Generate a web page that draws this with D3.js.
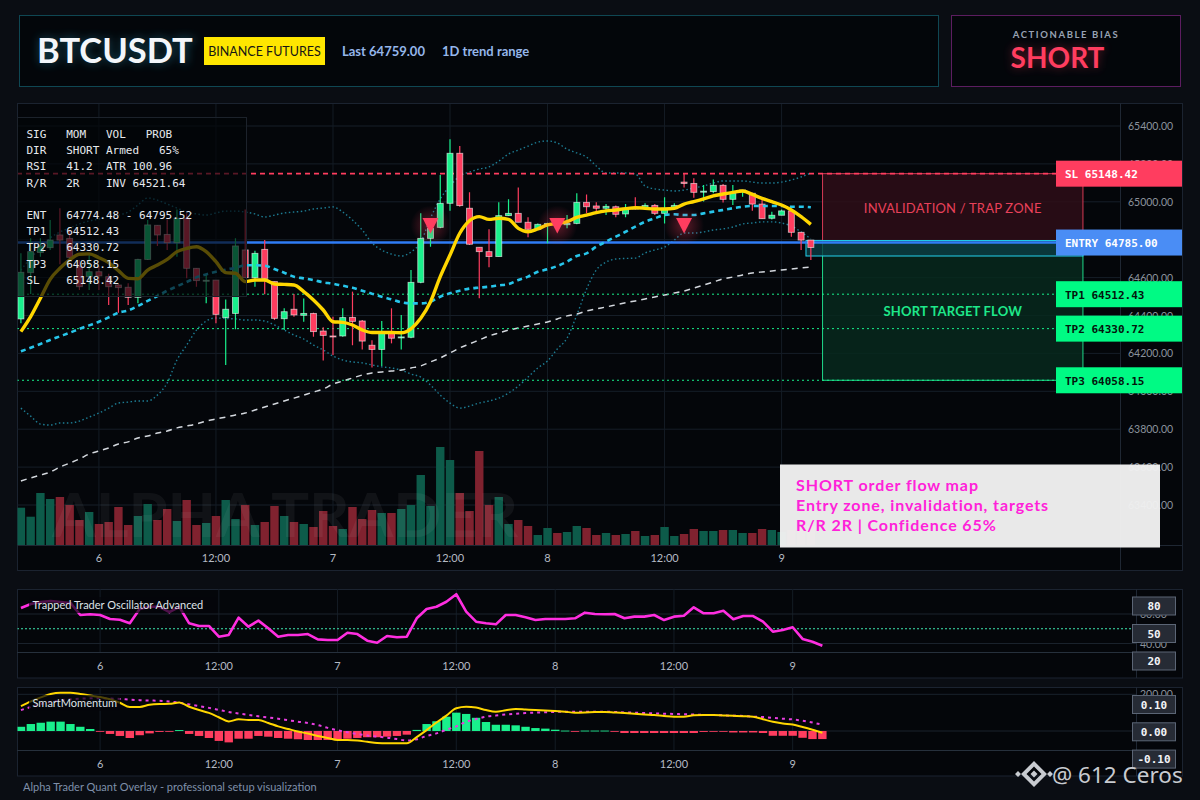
<!DOCTYPE html>
<html>
<head>
<meta charset="utf-8">
<script src="https://cdn.jsdelivr.net/npm/d3@7"></script>
<style>
  html, body { margin: 0; padding: 0; background: #0a0d13; }
  svg { display: block; }
</style>
</head>
<body>
<svg id="chart" width="1200" height="800"></svg>
<script>
// ---- data (1h bars, 5th 16:00 -> 9th 03:00) ----
const tickIdx = [8, 20, 32, 44, 54, 66, 78];
const tickLabels = ["6", "12:00", "7", "12:00", "8", "12:00", "9"];
const priceTicks = [63400, 63600, 63800, 64000, 64200, 64400, 64600, 64800, 65000, 65200, 65400];

const open  = [64382,64626,64732,64758,64825,64807,64658,64605,64631,64605,64561,64549,64496,64696,64876,64828,64784,64913,64649,64582,64587,64389,64411,64746,64600,64749,64579,64383,64433,64401,64411,64318,64292,64292,64390,64371,64243,64221,64306,64283,64285,64575,64807,64865,64992,65256,64966,64760,64737,64711,64927,64939,64892,64855,64878,64884,64879,64886,64997,64978,64966,64974,64936,64970,64964,64981,64939,64964,65104,65097,65052,65054,65087,65013,65054,65045,64988,64913,64929,64952,64839,64798];
const high  = [64728,64807,64807,64904,64966,64851,64693,64728,64660,64620,64570,64570,64700,64904,64878,64907,64960,64939,64649,64622,64587,64485,64807,64960,64742,64798,64579,64438,64514,64490,64415,64338,64394,64438,64526,64376,64270,64371,64438,64403,64640,64939,64886,65141,65330,65295,65050,64760,64855,64997,65013,65076,64918,64886,64890,64900,64930,65045,65039,64997,64988,64981,64988,65024,64992,64988,65024,64992,65150,65124,65089,65118,65094,65089,65062,65048,65018,64948,64960,64952,64839,64798];
const low   = [64359,64514,64710,64746,64670,64700,64535,64535,64535,64455,64415,64455,64464,64693,64767,64746,64710,64596,64552,64464,64359,64139,64327,64596,64552,64512,64376,64324,64394,64367,64288,64162,64192,64288,64243,64221,64126,64133,64253,64221,64280,64570,64763,64860,64953,64974,64772,64491,64654,64711,64925,64892,64813,64850,64781,64860,64860,64881,64939,64936,64930,64918,64918,64958,64962,64930,64886,64962,65076,65022,65001,65045,64996,64983,65027,64953,64911,64907,64929,64816,64746,64693];
const close = [64628,64737,64767,64798,64798,64707,64552,64631,64609,64552,64547,64496,64696,64878,64825,64784,64913,64649,64584,64586,64406,64433,64767,64600,64728,64596,64385,64420,64403,64411,64315,64295,64288,64389,64369,64265,64221,64306,64280,64287,64575,64807,64860,64992,65256,64980,64776,64737,64711,64927,64939,64892,64855,64881,64886,64880,64886,64997,64974,64966,64976,64934,64966,64962,64981,64939,64966,64981,65097,65050,65056,65087,65013,65045,65062,64988,64911,64929,64952,64839,64798,64759];
const volume = [746,566,1040,920,960,800,500,660,420,460,760,400,580,820,500,720,480,900,400,440,580,900,520,800,400,460,780,580,460,420,360,680,380,320,760,520,700,640,640,720,800,1400,780,1960,1700,1040,680,1880,800,960,420,500,380,200,340,240,260,380,340,200,240,200,220,280,180,200,360,180,220,320,280,280,300,300,240,240,320,300,260,300,340,380];

const emaFast = [64315,64394,64491,64591,64649,64693,64723,64725,64705,64679,64637,64596,64594,64640,64666,64696,64737,64754,64763,64737,64684,64626,64623,64579,64587,64587,64566,64564,64561,64526,64482,64429,64367,64364,64350,64324,64310,64310,64310,64309,64330,64385,64473,64605,64719,64834,64900,64922,64907,64913,64907,64860,64842,64857,64878,64886,64895,64918,64930,64943,64952,64957,64964,64969,64966,64962,64962,64966,64988,65001,65015,65031,65041,65050,65057,65039,65018,65001,64983,64957,64922,64881];
const emaSlow = [64211,64230,64250,64271,64290,64309,64329,64348,64367,64390,64415,64427,64450,64477,64503,64531,64554,64577,64601,64617,64631,64642,64652,64665,64665,64663,64645,64626,64605,64596,64587,64575,64568,64557,64547,64531,64515,64499,64485,64470,64464,64464,64473,64499,64517,64531,64542,64547,64552,64559,64566,64587,64605,64631,64644,64661,64684,64714,64728,64763,64790,64816,64842,64869,64895,64913,64930,64934,64930,64930,64939,64948,64957,64966,64974,64978,64978,64978,64978,64974,64974,64971];
const bbUpper = [64640,64703,64756,64809,64841,64862,64883,64899,64909,64920,64930,64946,64983,65020,65009,64988,64967,64946,64936,64930,64941,64951,64951,64946,64936,64920,64930,64941,64946,64951,64962,64967,64973,64946,64904,64851,64783,64745,64724,64714,64735,64788,64914,65015,65083,65136,65157,65173,65184,65215,65252,65273,65294,65315,65321,65310,65278,65258,65236,65189,65152,65152,65152,65147,65083,65068,65062,65057,65062,65073,65083,65099,65110,65110,65110,65104,65099,65099,65104,65115,65131,65152];
const bbLower = [63911,63869,63827,63822,63833,63833,63843,63864,63885,63911,63938,63943,63949,63949,63980,64044,64165,64244,64323,64371,64387,64384,64382,64376,64376,64371,64350,64323,64297,64276,64244,64218,64186,64165,64155,64150,64139,64129,64123,64112,64091,64075,64033,63980,63938,63911,63922,63938,63949,63964,63991,64027,64075,64123,64160,64223,64281,64402,64539,64640,64682,64698,64701,64703,64730,64746,64761,64798,64835,64835,64841,64851,64857,64867,64883,64888,64894,64894,64888,64872,64841,64804];
const maLong = [63527,63543,63558,63574,63600,63621,63643,63669,63685,63701,63722,63733,63754,63764,63780,63791,63807,63817,63828,63843,63854,63864,63875,63885,63901,63917,63933,63949,63964,63980,63996,64012,64038,64054,64070,64086,64097,64102,64107,64112,64123,64134,64155,64176,64202,64229,64250,64271,64292,64308,64323,64334,64345,64355,64366,64382,64398,64408,64424,64435,64445,64456,64467,64477,64487,64498,64508,64519,64529,64545,64561,64577,64593,64603,64614,64624,64630,64635,64640,64645,64651,64656];

const trapOsc = [64.1,66.8,68.1,68.8,68.1,67.5,59.3,59.8,59.3,56.6,56.1,53.7,63.4,64.9,64.9,61.2,64.9,53.7,51.9,51.9,44.6,45.8,57.5,51.4,55.5,50.3,44.6,45.8,45.8,46.4,42.8,42.4,42.4,47.3,46.4,41.9,40.5,45.1,44.2,44.6,57.1,63.4,64.9,68.3,73.4,61.6,54.8,53.7,53.0,59.3,59.3,57.8,55.9,56.6,56.6,56.6,57.1,60.9,60,59.8,60,57.1,58.2,58.2,59.3,55.9,58.2,58.8,64.5,60.5,60.5,62.2,56.4,58.6,58.6,54.8,48,49.2,51,43.1,41.2,38.5];
const trapMid = 50;
const trapTicks = [40, 60];
const trapBadges = ["80", "50", "20"];

const momLine = [135,161,183,202,209,209,202,193,185,173,154,131,131,143,147,148,155,132,114,99,75,52,64,60,60,44,25,11,-3,-14,-27,-38,-49,-49,-52,-59,-66,-67,-67,-67,-33,5,46,84,124,132,128,114,105,113,120,117,114,112,109,105,100,101,103,104,101,98,94,90,87,82,78,78,86,87,87,85,83,81,78,64,50,41,35,22,7,-10];
const momSignal = [114,131,146,158,168,173,176,178,178,177,175,171,168,166,165,161,154,145,136,126,115,104,95,88,80,74,67,59,51,44,32,17,4,-7,-16,-25,-31,-36,-44,-52,-45,-27,-13,7,25,50,65,78,84,90,94,98,100,102,104,105,105,105,105,105,104,101,100,98,96,94,93,91,90,88,87,85,83,82,78,76,72,67,63,56,46,34];
const momHist = [23,38,45,51,51,38,23,11,-4,-16,-27,-38,-23,-13,-5,-4,5,-16,-27,-38,-54,-62,-42,-42,-27,-31,-38,-42,-45,-49,-49,-49,-45,-42,-38,-34,-34,-31,-27,-20,6,38,53,78,100,93,72,49,34,34,31,23,16,13,7,2,-2,2,2,2,-3,-11,-11,-11,-11,-11,-11,-11,-11,-5,-3,-3,-8,-8,-8,-11,-26,-26,-26,-37,-44,-44];
const momTicks = [0, 200];
const momBadges = ["0.10", "0.00", "-0.10"];

const levelNames  = ["SL", "ENTRY", "TP1", "TP2", "TP3"];
const levelPrices = [65148.42, 64785.00, 64512.43, 64330.72, 64058.15];
const entryZone = [64795.52, 64714];
const zoneSpan = [82.2, 108.9];      // bar index span of the setup boxes
const entryZoneStart = 80.5;
const sellSignals = [42, 55, 68];
const sellSignalPrice = 64875;

const infoLines = [
  "SIG   MOM   VOL   PROB",
  "DIR   SHORT Armed   65%",
  "RSI   41.2  ATR 100.96",
  "R/R   2R    INV 64521.64",
  "",
  "ENT   64774.48 - 64795.52",
  "TP1   64512.43",
  "TP2   64330.72",
  "TP3   64058.15",
  "SL    65148.42"
];
const noteLines = ["SHORT order flow map", "Entry zone, invalidation, targets", "R/R 2R | Confidence 65%"];

// ---- setup ----
const svg = d3.select("#chart");
const defs = svg.append("defs");
const SANS = "Lato, 'Open Sans', 'Noto Sans', sans-serif";
const MONO = "'DejaVu Sans Mono', 'Liberation Mono', monospace";
const UP = "#19f08c", DOWN = "#ff3d5f";

const blur = defs.append("filter").attr("id", "blur").attr("x", "-30%").attr("y", "-60%").attr("width", "160%").attr("height", "220%");
blur.append("feGaussianBlur").attr("stdDeviation", 5);

const sigGlow = defs.append("radialGradient").attr("id", "sigGlow");
sigGlow.append("stop").attr("offset", "0%").attr("stop-color", "#ff3d5f").attr("stop-opacity", 0.35);
sigGlow.append("stop").attr("offset", "100%").attr("stop-color", "#ff3d5f").attr("stop-opacity", 0);

svg.append("rect").attr("width", 1200).attr("height", 800).attr("fill", "#0a0d13");

// ---- header ----
svg.append("rect").attr("x", 19.5).attr("y", 15.5).attr("width", 919).attr("height", 71)
  .attr("fill", "#03060a").attr("stroke", "#0f4753");
svg.append("text").attr("x", 37).attr("y", 63).attr("font-family", SANS).attr("font-weight", 700)
  .attr("font-size", 35).attr("fill", "#2aa6c8").attr("opacity", 0.45).attr("filter", "url(#blur)").text("BTCUSDT");
svg.append("text").attr("x", 37).attr("y", 63).attr("font-family", SANS).attr("font-weight", 700)
  .attr("font-size", 34.5).attr("fill", "#f3f6fa").text("BTCUSDT");
svg.append("rect").attr("x", 204).attr("y", 37).attr("width", 121).attr("height", 28).attr("fill", "#ffe600");
svg.append("text").attr("x", 264.5).attr("y", 55.5).attr("text-anchor", "middle").attr("font-family", SANS)
  .attr("font-size", 12.5).attr("fill", "#151515").text("BINANCE FUTURES");
svg.append("text").attr("x", 342).attr("y", 56).attr("font-family", SANS).attr("font-weight", 700)
  .attr("font-size", 13).attr("fill", "#95b6ea").text("Last 64759.00");
svg.append("text").attr("x", 442).attr("y", 56).attr("font-family", SANS).attr("font-weight", 700)
  .attr("font-size", 13).attr("fill", "#95b6ea").text("1D trend range");

svg.append("rect").attr("x", 951.5).attr("y", 15.5).attr("width", 229).attr("height", 71)
  .attr("fill", "#03060a").attr("stroke", "#5c1d60");
svg.append("text").attr("x", 1066).attr("y", 37.5).attr("text-anchor", "middle").attr("font-family", SANS)
  .attr("font-weight", 700).attr("font-size", 9.5).attr("letter-spacing", 1.6).attr("fill", "#98a2b3").text("ACTIONABLE BIAS");
svg.append("text").attr("x", 1057.5).attr("y", 68).attr("text-anchor", "middle").attr("font-family", SANS)
  .attr("font-weight", 700).attr("font-size", 28).attr("fill", "#ff3d5f").attr("opacity", 0.4)
  .attr("filter", "url(#blur)").text("SHORT");
svg.append("text").attr("x", 1057.5).attr("y", 68).attr("text-anchor", "middle").attr("font-family", SANS)
  .attr("font-weight", 700).attr("font-size", 28).attr("fill", "#ff3d5f").text("SHORT");

// ---- main price pane ----
const x = d3.scaleLinear().domain([-0.4, 112.7]).range([17, 1120]);
const y = d3.scaleLinear().domain([63400, 65400]).range([505, 126]);
const yVol = d3.scaleLinear().domain([0, d3.max(volume)]).range([545, 447]);
const idx = d3.range(open.length);

svg.append("rect").attr("x", 17.5).attr("y", 103.5).attr("width", 1165).attr("height", 467)
  .attr("fill", "#04060a").attr("stroke", "#1b2330");
defs.append("clipPath").attr("id", "mainClip").append("rect")
  .attr("x", 17.5).attr("y", 104).attr("width", 1102.5).attr("height", 441);

const main = svg.append("g").attr("clip-path", "url(#mainClip)");
main.selectAll(".hg").data(priceTicks).join("line")
  .attr("x1", 17).attr("x2", 1120).attr("y1", d => y(d)).attr("y2", d => y(d))
  .attr("stroke", "#161e28").attr("stroke-width", 1);
main.selectAll(".vg").data(tickIdx).join("line")
  .attr("x1", d => x(d)).attr("x2", d => x(d)).attr("y1", 103).attr("y2", 545)
  .attr("stroke", "#141c25").attr("stroke-width", 1);

// volume
main.selectAll(".vol").data(idx).join("rect")
  .attr("x", i => x(i) - 4.2).attr("width", 8.4)
  .attr("y", i => yVol(volume[i])).attr("height", i => 545 - yVol(volume[i]))
  .attr("fill", i => close[i] >= open[i] ? "#0d5b4a" : "#80222f");

main.append("text").attr("x", 52).attr("y", 537).attr("font-family", SANS).attr("font-weight", 700)
  .attr("font-size", 62).attr("textLength", 466).attr("lengthAdjust", "spacingAndGlyphs")
  .attr("fill", "#ffffff").attr("opacity", 0.05).text("ALPHA TRADER");

const lineOf = arr => d3.line().x((d, i) => x(i)).y(d => y(d)).curve(d3.curveMonotoneX)(arr);

main.append("path").attr("d", lineOf(bbUpper)).attr("fill", "none").attr("stroke", "#1d7d94")
  .attr("stroke-width", 1.4).attr("stroke-dasharray", "1.5,2.5");
main.append("path").attr("d", lineOf(bbLower)).attr("fill", "none").attr("stroke", "#1d7d94")
  .attr("stroke-width", 1.4).attr("stroke-dasharray", "1.5,2.5");
main.append("path").attr("d", lineOf(maLong)).attr("fill", "none").attr("stroke", "#d4d8de")
  .attr("stroke-width", 1.5).attr("stroke-dasharray", "6,5");

// setup zones
const yEntry = y(levelPrices[1]);
main.append("rect").attr("x", x(zoneSpan[0])).attr("width", x(zoneSpan[1]) - x(zoneSpan[0]))
  .attr("y", yEntry).attr("height", y(levelPrices[4]) - yEntry)
  .attr("fill", "#07291d").attr("fill-opacity", 0.85).attr("stroke", "#1fd88a").attr("stroke-width", 1);
main.append("rect").attr("x", x(zoneSpan[0])).attr("width", x(zoneSpan[1]) - x(zoneSpan[0]))
  .attr("y", y(levelPrices[0])).attr("height", yEntry - y(levelPrices[0]))
  .attr("fill", "#2e0e18").attr("fill-opacity", 0.85).attr("stroke", "#d63a55").attr("stroke-width", 1);
main.append("rect").attr("x", x(entryZoneStart)).attr("width", x(zoneSpan[1]) - x(entryZoneStart))
  .attr("y", y(entryZone[0])).attr("height", y(entryZone[1]) - y(entryZone[0]))
  .attr("fill", "#0b3c43").attr("fill-opacity", 0.8).attr("stroke", "#22d3ee").attr("stroke-width", 1);
const zoneMid = x((zoneSpan[0] + zoneSpan[1]) / 2);
main.append("text").attr("x", zoneMid).attr("y", 213).attr("text-anchor", "middle").attr("font-family", SANS)
  .attr("font-size", 13).attr("letter-spacing", 0.2).attr("fill", "#e8415a").text("INVALIDATION / TRAP ZONE");
main.append("text").attr("x", zoneMid).attr("y", 316).attr("text-anchor", "middle").attr("font-family", SANS)
  .attr("font-weight", 700).attr("font-size", 13).attr("letter-spacing", 0.2).attr("fill", "#1ee88a").text("SHORT TARGET FLOW");

// level lines
main.append("line").attr("x1", 17).attr("x2", 1120).attr("y1", y(levelPrices[0])).attr("y2", y(levelPrices[0]))
  .attr("stroke", "#ff3d5f").attr("stroke-width", 1.6).attr("stroke-dasharray", "5,4");
main.append("line").attr("x1", 17).attr("x2", 1120).attr("y1", yEntry).attr("y2", yEntry)
  .attr("stroke", "#2f7cf6").attr("stroke-width", 2.4);
main.selectAll(".tp").data(levelPrices.slice(2)).join("line")
  .attr("x1", 17).attr("x2", 1120).attr("y1", d => y(d)).attr("y2", d => y(d))
  .attr("stroke", "#19f08c").attr("stroke-width", 1).attr("stroke-dasharray", "2,3");

// candles
const cg = main.selectAll(".candle").data(idx).join("g");
cg.append("line").attr("x1", i => x(i)).attr("x2", i => x(i))
  .attr("y1", i => y(high[i])).attr("y2", i => y(low[i]))
  .attr("stroke", i => close[i] >= open[i] ? UP : DOWN).attr("stroke-width", 1.2);
cg.append("rect").attr("x", i => x(i) - 3).attr("width", 6)
  .attr("y", i => y(Math.max(open[i], close[i])))
  .attr("height", i => Math.max(1, Math.abs(y(open[i]) - y(close[i]))))
  .attr("fill", i => close[i] >= open[i] ? UP : DOWN)
  .attr("stroke", "#ffffff").attr("stroke-opacity", 0.6).attr("stroke-width", 0.9);

main.append("path").attr("d", lineOf(emaSlow)).attr("fill", "none").attr("stroke", "#27c5ea")
  .attr("stroke-width", 2.6).attr("stroke-dasharray", "5,4");
main.append("path").attr("d", lineOf(emaFast)).attr("fill", "none").attr("stroke", "#ffd600")
  .attr("stroke-width", 3.4).attr("stroke-linejoin", "round");

// sell signals
const sg = main.selectAll(".sig").data(sellSignals).join("g")
  .attr("transform", d => `translate(${x(d)},${y(sellSignalPrice)})`);
sg.append("circle").attr("r", 20).attr("fill", "url(#sigGlow)");
sg.append("path").attr("d", "M-8,-7.5L8,-7.5L0,8Z").attr("fill", "#ff3d5f");

// info box
svg.append("rect").attr("x", 17.5).attr("y", 117.5).attr("width", 229).attr("height", 179)
  .attr("fill", "#020407").attr("fill-opacity", 0.66).attr("stroke", "#1c222b");
svg.append("g").selectAll("text").data(infoLines).join("text")
  .attr("x", 26.5).attr("y", (d, i) => 138 + i * 16.2)
  .attr("font-family", MONO).attr("font-size", 11).attr("fill", "#e6e9ee")
  .attr("xml:space", "preserve").style("white-space", "pre").text(d => d);

// price axis
svg.append("line").attr("x1", 1120.5).attr("x2", 1120.5).attr("y1", 103).attr("y2", 570).attr("stroke", "#1f2733");
svg.append("line").attr("x1", 17).attr("x2", 1182).attr("y1", 545.5).attr("y2", 545.5).attr("stroke", "#1f2733");
svg.selectAll(".pt").data(priceTicks).join("text")
  .attr("x", 1128).attr("y", d => y(d) + 4).attr("font-family", SANS).attr("font-size", 10.5)
  .attr("fill", "#8b929c").text(d => d.toFixed(2));
svg.selectAll(".tt").data(tickIdx).join("text")
  .attr("x", d => x(d)).attr("y", 562).attr("text-anchor", "middle").attr("font-family", SANS)
  .attr("font-size", 11).attr("fill", "#b4bac4").text((d, i) => tickLabels[i]);

// level badges
const badgeFill = ["#ff3d5f", "#4a8df5", "#00fa84", "#00fa84", "#00fa84"];
const badgeText = ["#ffffff", "#ffffff", "#04140c", "#04140c", "#04140c"];
const bg = svg.selectAll(".badge").data(levelPrices).join("g")
  .attr("transform", d => `translate(1056,${y(d) - 13})`);
bg.append("rect").attr("width", 126).attr("height", 26).attr("fill", (d, i) => badgeFill[i]);
bg.append("text").attr("x", 9).attr("y", 17.5).attr("font-family", MONO).attr("font-weight", 700)
  .attr("font-size", 11).attr("fill", (d, i) => badgeText[i])
  .text((d, i) => levelNames[i] + " " + d.toFixed(2));

// note box
svg.append("rect").attr("x", 780).attr("y", 464.5).attr("width", 380).attr("height", 83)
  .attr("fill", "#f1f1f1").attr("fill-opacity", 0.97);
svg.selectAll(".note").data(noteLines).join("text")
  .attr("x", 796).attr("y", (d, i) => 491 + i * 20).attr("font-family", SANS).attr("font-weight", 700)
  .attr("font-size", 16).attr("letter-spacing", 0.9).attr("fill", "#ff22d9").text(d => d);

// ---- oscillator panes ----
const xo = d3.scaleLinear().domain([-0.4, 112.7]).range([17, 1136]);
const yOsc = d3.scaleLinear().domain([40, 60]).range([643.5, 614]);
const yMom = d3.scaleLinear().domain([0, 200]).range([731, 694.3]);

function pane(top, axisY, clipId) {
  svg.append("rect").attr("x", 17.5).attr("y", top + 0.5).attr("width", 1165).attr("height", 88.5)
    .attr("fill", "#04060a").attr("stroke", "#1b2330");
  svg.append("line").attr("x1", 1136.5).attr("x2", 1136.5).attr("y1", top).attr("y2", top + 89).attr("stroke", "#1f2733");
  svg.append("line").attr("x1", 17).attr("x2", 1136).attr("y1", axisY + 0.5).attr("y2", axisY + 0.5).attr("stroke", "#26303c");
  svg.selectAll(null).data(tickIdx).join("line")
    .attr("x1", d => xo(d)).attr("x2", d => xo(d)).attr("y1", top).attr("y2", axisY)
    .attr("stroke", "#141c25");
  svg.selectAll(null).data(tickIdx).join("text")
    .attr("x", d => xo(d)).attr("y", axisY + 18).attr("text-anchor", "middle").attr("font-family", SANS)
    .attr("font-size", 11).attr("fill", "#b4bac4").text((d, i) => tickLabels[i]);
  defs.append("clipPath").attr("id", clipId).append("rect")
    .attr("x", 17.5).attr("y", top + 1).attr("width", 1118.5).attr("height", axisY - top - 1);
  return svg.append("g").attr("clip-path", `url(#${clipId})`);
}

function badge(cy, label) {
  const g = svg.append("g").attr("transform", `translate(1132.5,${cy - 9})`);
  g.append("rect").attr("width", 43).attr("height", 18).attr("fill", "#262b35").attr("stroke", "#5b6575");
  g.append("text").attr("x", 21.5).attr("y", 13).attr("text-anchor", "middle").attr("font-family", MONO)
    .attr("font-weight", 700).attr("font-size", 11).attr("fill", "#f2f4f7").text(label);
}

// Trapped Trader Oscillator
const p1 = pane(589, 652, "clipOsc");
p1.selectAll(".g1").data(trapTicks).join("line")
  .attr("x1", 17).attr("x2", 1136).attr("y1", d => yOsc(d)).attr("y2", d => yOsc(d)).attr("stroke", "#1a222c");
p1.append("line").attr("x1", 17).attr("x2", 1136).attr("y1", yOsc(trapMid)).attr("y2", yOsc(trapMid))
  .attr("stroke", "#3de8b0").attr("stroke-width", 1).attr("stroke-dasharray", "2,2");
p1.append("path").attr("d", d3.line().x((d, i) => xo(i)).y(d => yOsc(d))(trapOsc))
  .attr("fill", "none").attr("stroke", "#ff2ee0").attr("stroke-width", 2.6).attr("stroke-linejoin", "round");
p1.append("rect").attr("x", 29).attr("y", 597).attr("width", 188).attr("height", 16).attr("fill", "#04060a").attr("fill-opacity", 0.7);
p1.append("text").attr("x", 32.5).attr("y", 609).attr("font-family", SANS).attr("font-size", 11)
  .attr("fill", "#dfe3e8").text("Trapped Trader Oscillator Advanced");
svg.selectAll(".ot").data(trapTicks).join("text")
  .attr("x", 1140).attr("y", d => yOsc(d) + 4).attr("font-family", SANS).attr("font-size", 10.5)
  .attr("fill", "#8b929c").text(d => d.toFixed(2));
trapBadges.forEach((b, i) => badge(606 + i * 27.5, b));

// SmartMomentum
const p2 = pane(687, 750, "clipMom");
p2.selectAll(".g2").data(momTicks).join("line")
  .attr("x1", 17).attr("x2", 1136).attr("y1", d => yMom(d)).attr("y2", d => yMom(d)).attr("stroke", "#1a222c");
p2.selectAll(".hist").data(momHist).join("rect")
  .attr("x", (d, i) => xo(i) - 4.2).attr("width", 8.4)
  .attr("y", d => Math.min(yMom(d), yMom(0))).attr("height", d => Math.max(0.8, Math.abs(yMom(d) - yMom(0))))
  .attr("fill", d => d >= 0 ? "#19f08c" : "#ff3d5f");
p2.append("path").attr("d", d3.line().x((d, i) => xo(i)).y(d => yMom(d)).curve(d3.curveMonotoneX)(momSignal))
  .attr("fill", "none").attr("stroke", "#e83ee0").attr("stroke-width", 2).attr("stroke-dasharray", "3,4");
p2.append("path").attr("d", d3.line().x((d, i) => xo(i)).y(d => yMom(d)).curve(d3.curveMonotoneX)(momLine))
  .attr("fill", "none").attr("stroke", "#ffd600").attr("stroke-width", 2);
p2.append("rect").attr("x", 29).attr("y", 695).attr("width", 91).attr("height", 16).attr("fill", "#04060a").attr("fill-opacity", 0.7);
p2.append("text").attr("x", 32.5).attr("y", 707).attr("font-family", SANS).attr("font-size", 11)
  .attr("fill", "#dfe3e8").text("SmartMomentum");
svg.append("text").attr("x", 1140).attr("y", yMom(200) + 4).attr("font-family", SANS).attr("font-size", 10.5)
  .attr("fill", "#8b929c").text("200.00");
momBadges.forEach((b, i) => badge(704.5 + i * 27.3, b));

// ---- footer ----
svg.append("text").attr("x", 23).attr("y", 791).attr("font-family", SANS).attr("font-size", 11)
  .attr("fill", "#7f90aa").text("Alpha Trader Quant Overlay - professional setup visualization");
const logo = svg.append("g").attr("transform", "translate(1034,774)").attr("fill", "#c8cbd0");
logo.append("path").attr("d", "M0,-13L13,0L0,13L-13,0Z M0,-7.5L-7.5,0L0,7.5L7.5,0Z").attr("fill-rule", "evenodd");
logo.append("path").attr("d", "M0,-3.5L3.5,0L0,3.5L-3.5,0Z");
logo.append("path").attr("d", "M-16,-3L-13,0L-16,3L-19,0Z M16,-3L19,0L16,3L13,0Z");
svg.append("text").attr("x", 1052).attr("y", 783).attr("font-family", "'Noto Sans', sans-serif")
  .attr("font-size", 22.5).attr("fill", "#c8cbd0").text("@ 612 Ceros");
</script>
</body>
</html>
